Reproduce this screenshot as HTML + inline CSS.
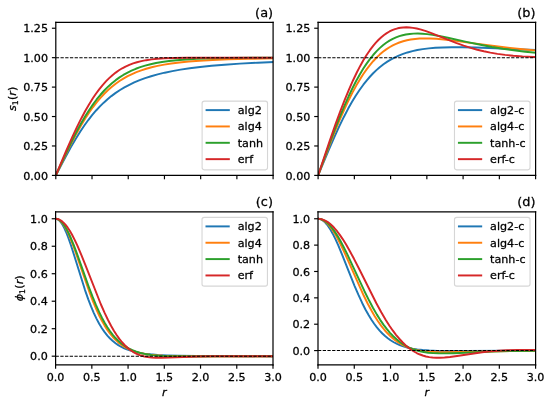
<!DOCTYPE html>
<html><head><meta charset="utf-8"><title>figure</title>
<style>html,body{margin:0;padding:0;background:#fff;overflow:hidden}svg{display:block}svg text{stroke:#000;stroke-width:0.25px;paint-order:stroke fill}</style></head>
<body>
<svg width="550" height="406" viewBox="0 0 493.716338 364.452424" version="1.1">
 
 <defs>
  <style type="text/css">*{stroke-linejoin: round; stroke-linecap: butt}</style>
 </defs>
 <g id="figure_1">
  <g id="patch_1">
   <path d="M 0 364.452424 
L 493.716338 364.452424 
L 493.716338 0 
L 0 0 
z
" style="fill: #ffffff"/>
  </g>
  <g id="axes_1">
   <g id="patch_2">
    <path d="M 50.089767 157.450628 
L 245.152603 157.450628 
L 245.152603 20.062837 
L 50.089767 20.062837 
z
" style="fill: #ffffff"/>
   </g>
   <g id="matplotlib.axis_1">
    <g id="xtick_1">
     <g id="line2d_1">
      <g>
       <path d="M 0 0  L 0 3.5  " transform="translate(50.089767 157.450628)" style="stroke: #000000; stroke-width: 1.05"/>
      </g>
     </g>
    </g>
    <g id="xtick_2">
     <g id="line2d_2">
      <g>
       <path d="M 0 0  L 0 3.5  " transform="translate(82.600239 157.450628)" style="stroke: #000000; stroke-width: 1.05"/>
      </g>
     </g>
    </g>
    <g id="xtick_3">
     <g id="line2d_3">
      <g>
       <path d="M 0 0  L 0 3.5  " transform="translate(115.110712 157.450628)" style="stroke: #000000; stroke-width: 1.05"/>
      </g>
     </g>
    </g>
    <g id="xtick_4">
     <g id="line2d_4">
      <g>
       <path d="M 0 0  L 0 3.5  " transform="translate(147.621185 157.450628)" style="stroke: #000000; stroke-width: 1.05"/>
      </g>
     </g>
    </g>
    <g id="xtick_5">
     <g id="line2d_5">
      <g>
       <path d="M 0 0  L 0 3.5  " transform="translate(180.131658 157.450628)" style="stroke: #000000; stroke-width: 1.05"/>
      </g>
     </g>
    </g>
    <g id="xtick_6">
     <g id="line2d_6">
      <g>
       <path d="M 0 0  L 0 3.5  " transform="translate(212.64213 157.450628)" style="stroke: #000000; stroke-width: 1.05"/>
      </g>
     </g>
    </g>
    <g id="xtick_7">
     <g id="line2d_7">
      <g>
       <path d="M 0 0  L 0 3.5  " transform="translate(245.152603 157.450628)" style="stroke: #000000; stroke-width: 1.05"/>
      </g>
     </g>
    </g>
   </g>
   <g id="matplotlib.axis_2">
    <g id="ytick_1">
     <g id="line2d_8">
      <g>
       <path d="M 0 0  L -3.5 0  " transform="translate(50.089767 157.450628)" style="stroke: #000000; stroke-width: 1.05"/>
      </g>
     </g>
     <g id="text_1">
      <text style="font-size: 10px; font-family: 'DejaVu Sans', sans-serif; text-anchor: end" x="43.089767" y="161.249847">0.00</text>
     </g>
    </g>
    <g id="ytick_2">
     <g id="line2d_9">
      <g>
       <path d="M 0 0  L -3.5 0  " transform="translate(50.089767 131.029899)" style="stroke: #000000; stroke-width: 1.05"/>
      </g>
     </g>
     <g id="text_2">
      <text style="font-size: 10px; font-family: 'DejaVu Sans', sans-serif; text-anchor: end" x="43.089767" y="134.829118">0.25</text>
     </g>
    </g>
    <g id="ytick_3">
     <g id="line2d_10">
      <g>
       <path d="M 0 0  L -3.5 0  " transform="translate(50.089767 104.60917)" style="stroke: #000000; stroke-width: 1.05"/>
      </g>
     </g>
     <g id="text_3">
      <text style="font-size: 10px; font-family: 'DejaVu Sans', sans-serif; text-anchor: end" x="43.089767" y="108.408389">0.50</text>
     </g>
    </g>
    <g id="ytick_4">
     <g id="line2d_11">
      <g>
       <path d="M 0 0  L -3.5 0  " transform="translate(50.089767 78.188441)" style="stroke: #000000; stroke-width: 1.05"/>
      </g>
     </g>
     <g id="text_4">
      <text style="font-size: 10px; font-family: 'DejaVu Sans', sans-serif; text-anchor: end" x="43.089767" y="81.98766">0.75</text>
     </g>
    </g>
    <g id="ytick_5">
     <g id="line2d_12">
      <g>
       <path d="M 0 0  L -3.5 0  " transform="translate(50.089767 51.767712)" style="stroke: #000000; stroke-width: 1.05"/>
      </g>
     </g>
     <g id="text_5">
      <text style="font-size: 10px; font-family: 'DejaVu Sans', sans-serif; text-anchor: end" x="43.089767" y="55.56693">1.00</text>
     </g>
    </g>
    <g id="ytick_6">
     <g id="line2d_13">
      <g>
       <path d="M 0 0  L -3.5 0  " transform="translate(50.089767 25.346982)" style="stroke: #000000; stroke-width: 1.05"/>
      </g>
     </g>
     <g id="text_6">
      <text style="font-size: 10px; font-family: 'DejaVu Sans', sans-serif; text-anchor: end" x="43.089767" y="29.146201">1.25</text>
     </g>
    </g>
    <g id="text_7">
     <!-- $s_1(r)$ -->
     <g transform="translate(14.744454 99.706732) rotate(-90)">
      <text>
       <tspan x="0" y="-0.40625" style="font-style: oblique; font-size: 10px; font-family: 'DejaVu Sans', sans-serif">s</tspan>
       <tspan x="13.838379" y="-0.40625" style="font-style: oblique; font-size: 10px; font-family: 'DejaVu Sans', sans-serif">r</tspan>
       <tspan x="5.209961" y="1.234375" style="font-size: 7px; font-family: 'DejaVu Sans', sans-serif">1</tspan>
       <tspan x="9.937012" y="-0.40625" style="font-size: 10px; font-family: 'DejaVu Sans', sans-serif">(</tspan>
       <tspan x="17.949707" y="-0.40625" style="font-size: 10px; font-family: 'DejaVu Sans', sans-serif">)</tspan>
      </text>
     </g>
    </g>
   </g>
   <g id="line2d_14">
    <path d="M 50.089832 157.450503 
L 58.889656 140.67784 
L 63.778447 131.814062 
L 68.178359 124.293886 
L 72.089392 118.043525 
L 76.000425 112.238778 
L 79.422579 107.537445 
L 82.844733 103.188683 
L 86.266887 99.184382 
L 89.689041 95.510674 
L 93.111195 92.149721 
L 96.533349 89.081242 
L 99.955503 86.283751 
L 103.866536 83.390561 
L 107.777569 80.791208 
L 111.688602 78.455577 
L 116.088514 76.108478 
L 120.488426 74.023587 
L 125.377217 71.975403 
L 130.266008 70.172281 
L 135.643679 68.432001 
L 141.510228 66.780963 
L 147.865657 65.237455 
L 154.709965 63.812412 
L 162.043152 62.510531 
L 170.354097 61.264099 
L 179.6428 60.102112 
L 189.909262 59.041842 
L 201.642361 58.053658 
L 215.330976 57.129921 
L 231.463988 56.275837 
L 245.152603 55.69893 
L 245.152603 55.69893 
" clip-path="url(#pa1dbc01595)" style="fill: none; stroke: #1f77b4; stroke-width: 1.75; stroke-linecap: square"/>
   </g>
   <g id="line2d_15">
    <path d="M 50.089832 157.45049 
L 59.378535 137.886107 
L 64.267326 128.085505 
L 68.667238 119.751769 
L 72.578271 112.81144 
L 76.489304 106.358613 
L 79.911458 101.132983 
L 83.333612 96.306737 
L 86.755766 91.877108 
L 90.17792 87.833971 
L 93.600074 84.161469 
L 97.022228 80.839581 
L 100.444382 77.845525 
L 103.866536 75.154975 
L 107.288689 72.743054 
L 110.710843 70.585104 
L 114.621876 68.399307 
L 118.532909 66.480439 
L 122.443942 64.797359 
L 126.843855 63.150517 
L 131.243767 61.730134 
L 136.132558 60.379075 
L 141.510228 59.125976 
L 147.376778 57.989678 
L 153.732207 56.979848 
L 161.065393 56.042294 
L 169.376339 55.208589 
L 179.153921 54.461207 
L 190.88702 53.804084 
L 205.064515 53.2486 
L 222.664163 52.792285 
L 245.152603 52.432881 
L 245.152603 52.432881 
" clip-path="url(#pa1dbc01595)" style="fill: none; stroke: #ff7f0e; stroke-width: 1.75; stroke-linecap: square"/>
   </g>
   <g id="line2d_16">
    <path d="M 50.089832 157.450485 
L 59.378535 137.178042 
L 64.267326 127.006888 
L 68.667238 118.344558 
L 72.578271 111.119861 
L 76.489304 104.394203 
L 79.911458 98.942894 
L 83.333612 93.906361 
L 86.755766 89.284674 
L 90.17792 85.070133 
L 93.600074 81.248753 
L 97.022228 77.801758 
L 100.444382 74.706963 
L 103.866536 71.940019 
L 107.288689 69.47546 
L 110.710843 67.287567 
L 114.132997 65.351041 
L 118.04403 63.414442 
L 121.955063 61.740027 
L 125.866096 60.296057 
L 130.266008 58.911142 
L 135.1548 57.626892 
L 140.043591 56.568099 
L 145.421261 55.618908 
L 151.77669 54.732655 
L 158.620998 54.002447 
L 166.931943 53.351252 
L 176.709525 52.822433 
L 188.931504 52.401618 
L 204.575636 52.097713 
L 227.552955 51.894072 
L 245.152603 51.828259 
L 245.152603 51.828259 
" clip-path="url(#pa1dbc01595)" style="fill: none; stroke: #2ca02c; stroke-width: 1.75; stroke-linecap: square"/>
   </g>
   <g id="line2d_17">
    <path d="M 50.089832 157.450473 
L 59.378535 135.457983 
L 64.756205 123.312324 
L 69.156118 113.921126 
L 73.067151 106.085776 
L 76.489304 99.67723 
L 79.911458 93.718851 
L 83.333612 88.231075 
L 86.266887 83.909919 
L 89.200162 79.943141 
L 92.133437 76.326856 
L 95.066711 73.052889 
L 97.999986 70.109329 
L 100.933261 67.48113 
L 103.866536 65.15073 
L 106.79981 63.098672 
L 109.733085 61.304204 
L 112.66636 59.745842 
L 116.088514 58.19721 
L 119.510668 56.906378 
L 122.932822 55.840541 
L 126.843855 54.858349 
L 131.243767 54.003746 
L 136.132558 53.302723 
L 141.510228 52.762241 
L 147.865657 52.346999 
L 156.176602 52.040764 
L 167.909701 51.854158 
L 189.420383 51.775711 
L 245.152603 51.767715 
L 245.152603 51.767715 
" clip-path="url(#pa1dbc01595)" style="fill: none; stroke: #d62728; stroke-width: 1.75; stroke-linecap: square"/>
   </g>
   <g id="line2d_18">
    <path d="M 50.089767 51.767712 
L 245.152603 51.767712 
" clip-path="url(#pa1dbc01595)" style="fill: none; stroke-dasharray: 2.945,1.2825; stroke-dashoffset: 0; stroke: #000000; stroke-width: 0.95"/>
   </g>
   <g id="patch_3">
    <path d="M 50.089767 157.450628 
L 50.089767 20.062837 
" style="fill: none; stroke: #000000; stroke-width: 1.1; stroke-linejoin: miter; stroke-linecap: square"/>
   </g>
   <g id="patch_4">
    <path d="M 245.152603 157.450628 
L 245.152603 20.062837 
" style="fill: none; stroke: #000000; stroke-width: 1.1; stroke-linejoin: miter; stroke-linecap: square"/>
   </g>
   <g id="patch_5">
    <path d="M 50.089767 157.450628 
L 245.152603 157.450628 
" style="fill: none; stroke: #000000; stroke-width: 1.1; stroke-linejoin: miter; stroke-linecap: square"/>
   </g>
   <g id="patch_6">
    <path d="M 50.089767 20.062837 
L 245.152603 20.062837 
" style="fill: none; stroke: #000000; stroke-width: 1.1; stroke-linejoin: miter; stroke-linecap: square"/>
   </g>
   <g id="text_8">
    <text style="font-size: 11.6px; font-family: 'DejaVu Sans', sans-serif; text-anchor: end" x="245.152603" y="15.062837">(a)</text>
   </g>
   <g id="legend_1">
    <g id="patch_7">
     <path d="M 183.429166 152.450628 
L 238.152603 152.450628 
Q 240.152603 152.450628 240.152603 150.450628 
L 240.152603 92.738128 
Q 240.152603 90.738128 238.152603 90.738128 
L 183.429166 90.738128 
Q 181.429166 90.738128 181.429166 92.738128 
L 181.429166 150.450628 
Q 181.429166 152.450628 183.429166 152.450628 
z
" style="fill: #ffffff; opacity: 0.8; stroke: #cccccc; stroke-linejoin: miter"/>
    </g>
    <g id="line2d_19">
     <path d="M 185.429166 98.836566 
L 195.429166 98.836566 
L 205.429166 98.836566 
" style="fill: none; stroke: #1f77b4; stroke-width: 1.75; stroke-linecap: square"/>
    </g>
    <g id="text_9">
     <text style="font-size: 10px; font-family: 'DejaVu Sans', sans-serif; text-anchor: start" x="213.429166" y="102.336566">alg2</text>
    </g>
    <g id="line2d_20">
     <path d="M 185.429166 113.514691 
L 195.429166 113.514691 
L 205.429166 113.514691 
" style="fill: none; stroke: #ff7f0e; stroke-width: 1.75; stroke-linecap: square"/>
    </g>
    <g id="text_10">
     <text style="font-size: 10px; font-family: 'DejaVu Sans', sans-serif; text-anchor: start" x="213.429166" y="117.014691">alg4</text>
    </g>
    <g id="line2d_21">
     <path d="M 185.429166 128.192816 
L 195.429166 128.192816 
L 205.429166 128.192816 
" style="fill: none; stroke: #2ca02c; stroke-width: 1.75; stroke-linecap: square"/>
    </g>
    <g id="text_11">
     <text style="font-size: 10px; font-family: 'DejaVu Sans', sans-serif; text-anchor: start" x="213.429166" y="131.692816">tanh</text>
    </g>
    <g id="line2d_22">
     <path d="M 185.429166 142.870941 
L 195.429166 142.870941 
L 205.429166 142.870941 
" style="fill: none; stroke: #d62728; stroke-width: 1.75; stroke-linecap: square"/>
    </g>
    <g id="text_12">
     <text style="font-size: 10px; font-family: 'DejaVu Sans', sans-serif; text-anchor: start" x="213.429166" y="146.370941">erf</text>
    </g>
   </g>
  </g>
  <g id="axes_2">
   <g id="patch_8">
    <path d="M 285.547576 157.450628 
L 480.789946 157.450628 
L 480.789946 20.062837 
L 285.547576 20.062837 
z
" style="fill: #ffffff"/>
   </g>
   <g id="matplotlib.axis_3">
    <g id="xtick_8">
     <g id="line2d_23">
      <g>
       <path d="M 0 0  L 0 3.5  " transform="translate(285.547576 157.450628)" style="stroke: #000000; stroke-width: 1.05"/>
      </g>
     </g>
    </g>
    <g id="xtick_9">
     <g id="line2d_24">
      <g>
       <path d="M 0 0  L 0 3.5  " transform="translate(318.087971 157.450628)" style="stroke: #000000; stroke-width: 1.05"/>
      </g>
     </g>
    </g>
    <g id="xtick_10">
     <g id="line2d_25">
      <g>
       <path d="M 0 0  L 0 3.5  " transform="translate(350.628366 157.450628)" style="stroke: #000000; stroke-width: 1.05"/>
      </g>
     </g>
    </g>
    <g id="xtick_11">
     <g id="line2d_26">
      <g>
       <path d="M 0 0  L 0 3.5  " transform="translate(383.168761 157.450628)" style="stroke: #000000; stroke-width: 1.05"/>
      </g>
     </g>
    </g>
    <g id="xtick_12">
     <g id="line2d_27">
      <g>
       <path d="M 0 0  L 0 3.5  " transform="translate(415.709156 157.450628)" style="stroke: #000000; stroke-width: 1.05"/>
      </g>
     </g>
    </g>
    <g id="xtick_13">
     <g id="line2d_28">
      <g>
       <path d="M 0 0  L 0 3.5  " transform="translate(448.249551 157.450628)" style="stroke: #000000; stroke-width: 1.05"/>
      </g>
     </g>
    </g>
    <g id="xtick_14">
     <g id="line2d_29">
      <g>
       <path d="M 0 0  L 0 3.5  " transform="translate(480.789946 157.450628)" style="stroke: #000000; stroke-width: 1.05"/>
      </g>
     </g>
    </g>
   </g>
   <g id="matplotlib.axis_4">
    <g id="ytick_7">
     <g id="line2d_30">
      <g>
       <path d="M 0 0  L -3.5 0  " transform="translate(285.547576 157.450628)" style="stroke: #000000; stroke-width: 1.05"/>
      </g>
     </g>
     <g id="text_13">
      <text style="font-size: 10px; font-family: 'DejaVu Sans', sans-serif; text-anchor: end" x="278.547576" y="161.249847">0.00</text>
     </g>
    </g>
    <g id="ytick_8">
     <g id="line2d_31">
      <g>
       <path d="M 0 0  L -3.5 0  " transform="translate(285.547576 131.029899)" style="stroke: #000000; stroke-width: 1.05"/>
      </g>
     </g>
     <g id="text_14">
      <text style="font-size: 10px; font-family: 'DejaVu Sans', sans-serif; text-anchor: end" x="278.547576" y="134.829118">0.25</text>
     </g>
    </g>
    <g id="ytick_9">
     <g id="line2d_32">
      <g>
       <path d="M 0 0  L -3.5 0  " transform="translate(285.547576 104.60917)" style="stroke: #000000; stroke-width: 1.05"/>
      </g>
     </g>
     <g id="text_15">
      <text style="font-size: 10px; font-family: 'DejaVu Sans', sans-serif; text-anchor: end" x="278.547576" y="108.408389">0.50</text>
     </g>
    </g>
    <g id="ytick_10">
     <g id="line2d_33">
      <g>
       <path d="M 0 0  L -3.5 0  " transform="translate(285.547576 78.188441)" style="stroke: #000000; stroke-width: 1.05"/>
      </g>
     </g>
     <g id="text_16">
      <text style="font-size: 10px; font-family: 'DejaVu Sans', sans-serif; text-anchor: end" x="278.547576" y="81.98766">0.75</text>
     </g>
    </g>
    <g id="ytick_11">
     <g id="line2d_34">
      <g>
       <path d="M 0 0  L -3.5 0  " transform="translate(285.547576 51.767712)" style="stroke: #000000; stroke-width: 1.05"/>
      </g>
     </g>
     <g id="text_17">
      <text style="font-size: 10px; font-family: 'DejaVu Sans', sans-serif; text-anchor: end" x="278.547576" y="55.56693">1.00</text>
     </g>
    </g>
    <g id="ytick_12">
     <g id="line2d_35">
      <g>
       <path d="M 0 0  L -3.5 0  " transform="translate(285.547576 25.346982)" style="stroke: #000000; stroke-width: 1.05"/>
      </g>
     </g>
     <g id="text_18">
      <text style="font-size: 10px; font-family: 'DejaVu Sans', sans-serif; text-anchor: end" x="278.547576" y="29.146201">1.25</text>
     </g>
    </g>
   </g>
   <g id="line2d_36">
    <path d="M 285.547641 157.45047 
L 294.844894 135.112728 
L 300.227514 122.762492 
L 304.631476 113.193813 
L 308.546108 105.185587 
L 312.460741 97.702638 
L 315.886045 91.615173 
L 319.311348 85.97196 
L 322.736652 80.777589 
L 326.161955 76.028527 
L 329.09793 72.304599 
L 332.033904 68.890413 
L 334.969879 65.773697 
L 337.905853 62.940344 
L 340.841828 60.374937 
L 344.267132 57.698903 
L 347.692435 55.338923 
L 351.117739 53.268415 
L 354.543042 51.461309 
L 357.968346 49.89248 
L 361.882979 48.360762 
L 365.797611 47.075911 
L 370.201573 45.887672 
L 374.605535 44.934195 
L 379.498826 44.108047 
L 384.881446 43.435327 
L 390.753395 42.93033 
L 397.604002 42.578135 
L 405.433267 42.410618 
L 414.73052 42.441621 
L 426.963747 42.724519 
L 444.579594 43.380007 
L 480.789946 44.927468 
L 480.789946 44.927468 
" clip-path="url(#p3b82200e59)" style="fill: none; stroke: #1f77b4; stroke-width: 1.75; stroke-linecap: square"/>
   </g>
   <g id="line2d_37">
    <path d="M 285.547641 157.450454 
L 295.334223 131.464558 
L 300.716843 117.803314 
L 305.120805 107.191176 
L 309.035437 98.285863 
L 312.95007 89.944381 
L 316.375374 83.146257 
L 319.800677 76.838874 
L 323.225981 71.035099 
L 326.161955 66.464707 
L 329.09793 62.26562 
L 332.033904 58.432093 
L 334.969879 54.955047 
L 337.905853 51.822568 
L 340.841828 49.020404 
L 343.777802 46.53245 
L 346.713777 44.341215 
L 349.649751 42.428252 
L 352.585726 40.774546 
L 355.5217 39.360863 
L 358.457675 38.168048 
L 361.882979 37.030497 
L 365.308282 36.139038 
L 368.733586 35.466082 
L 372.648218 34.931288 
L 376.562851 34.612059 
L 380.966813 34.469943 
L 385.860104 34.532938 
L 391.732053 34.848213 
L 398.58266 35.456579 
L 407.390583 36.482206 
L 422.070456 38.461615 
L 443.600936 41.331619 
L 457.791479 42.989549 
L 471.492694 44.369892 
L 480.789946 45.185697 
L 480.789946 45.185697 
" clip-path="url(#p3b82200e59)" style="fill: none; stroke: #ff7f0e; stroke-width: 1.75; stroke-linecap: square"/>
   </g>
   <g id="line2d_38">
    <path d="M 285.547641 157.450445 
L 295.334223 130.184457 
L 300.716843 115.822301 
L 305.120805 104.643326 
L 309.035437 95.244321 
L 312.95007 86.42468 
L 316.375374 79.226335 
L 319.800677 72.541069 
L 323.225981 66.387114 
L 326.161955 61.54265 
L 329.09793 57.096925 
L 332.033904 53.047077 
L 334.969879 49.386528 
L 337.905853 46.105396 
L 340.841828 43.190934 
L 343.777802 40.62798 
L 346.713777 38.399407 
L 349.649751 36.486558 
L 352.585726 34.869663 
L 355.5217 33.528228 
L 358.457675 32.441384 
L 361.393649 31.588206 
L 364.329624 30.947986 
L 367.754928 30.443235 
L 371.180231 30.169789 
L 375.094864 30.102774 
L 379.009497 30.258308 
L 383.413458 30.652422 
L 388.306749 31.306057 
L 394.178698 32.311771 
L 402.007964 33.893194 
L 418.645152 37.563605 
L 431.367709 40.234685 
L 441.643619 42.161782 
L 451.430201 43.771133 
L 461.216783 45.157939 
L 471.492694 46.388625 
L 480.789946 47.32234 
L 480.789946 47.32234 
" clip-path="url(#p3b82200e59)" style="fill: none; stroke: #2ca02c; stroke-width: 1.75; stroke-linecap: square"/>
   </g>
   <g id="line2d_39">
    <path d="M 285.547641 157.450432 
L 295.823552 126.815073 
L 301.206172 111.452602 
L 305.610134 99.483387 
L 309.524767 89.410539 
L 313.439399 79.952913 
L 316.864703 72.234258 
L 320.290006 65.072855 
L 323.225981 59.398975 
L 326.161955 54.167 
L 329.09793 49.384686 
L 332.033904 45.055346 
L 334.969879 41.177995 
L 337.416524 38.288596 
L 339.86317 35.704646 
L 342.309815 33.419439 
L 344.756461 31.42468 
L 347.203106 29.710626 
L 349.649751 28.266244 
L 352.096397 27.079368 
L 354.543042 26.136864 
L 356.989688 25.424796 
L 359.436333 24.928591 
L 361.882979 24.6332 
L 364.818953 24.522161 
L 367.754928 24.651327 
L 370.690902 24.993879 
L 374.116206 25.627933 
L 378.030838 26.611726 
L 382.4348 27.97962 
L 387.81742 29.91947 
L 395.157356 32.830101 
L 409.3479 38.49096 
L 416.198507 40.955093 
L 422.559785 42.995001 
L 428.431734 44.643626 
L 434.303683 46.063687 
L 440.175632 47.263273 
L 446.53691 48.33262 
L 453.387517 49.246334 
L 460.727454 49.99262 
L 469.046048 50.603577 
L 478.83263 51.081541 
L 480.789946 51.152932 
L 480.789946 51.152932 
" clip-path="url(#p3b82200e59)" style="fill: none; stroke: #d62728; stroke-width: 1.75; stroke-linecap: square"/>
   </g>
   <g id="line2d_40">
    <path d="M 285.547576 51.767712 
L 480.789946 51.767712 
" clip-path="url(#p3b82200e59)" style="fill: none; stroke-dasharray: 2.945,1.2825; stroke-dashoffset: 0; stroke: #000000; stroke-width: 0.95"/>
   </g>
   <g id="patch_9">
    <path d="M 285.547576 157.450628 
L 285.547576 20.062837 
" style="fill: none; stroke: #000000; stroke-width: 1.1; stroke-linejoin: miter; stroke-linecap: square"/>
   </g>
   <g id="patch_10">
    <path d="M 480.789946 157.450628 
L 480.789946 20.062837 
" style="fill: none; stroke: #000000; stroke-width: 1.1; stroke-linejoin: miter; stroke-linecap: square"/>
   </g>
   <g id="patch_11">
    <path d="M 285.547576 157.450628 
L 480.789946 157.450628 
" style="fill: none; stroke: #000000; stroke-width: 1.1; stroke-linejoin: miter; stroke-linecap: square"/>
   </g>
   <g id="patch_12">
    <path d="M 285.547576 20.062837 
L 480.789946 20.062837 
" style="fill: none; stroke: #000000; stroke-width: 1.1; stroke-linejoin: miter; stroke-linecap: square"/>
   </g>
   <g id="text_19">
    <text style="font-size: 11.6px; font-family: 'DejaVu Sans', sans-serif; text-anchor: end" x="480.789946" y="15.062837">(b)</text>
   </g>
   <g id="legend_2">
    <g id="patch_13">
     <path d="M 409.960259 152.450628 
L 473.789946 152.450628 
Q 475.789946 152.450628 475.789946 150.450628 
L 475.789946 92.738128 
Q 475.789946 90.738128 473.789946 90.738128 
L 409.960259 90.738128 
Q 407.960259 90.738128 407.960259 92.738128 
L 407.960259 150.450628 
Q 407.960259 152.450628 409.960259 152.450628 
z
" style="fill: #ffffff; opacity: 0.8; stroke: #cccccc; stroke-linejoin: miter"/>
    </g>
    <g id="line2d_41">
     <path d="M 411.960259 98.836566 
L 421.960259 98.836566 
L 431.960259 98.836566 
" style="fill: none; stroke: #1f77b4; stroke-width: 1.75; stroke-linecap: square"/>
    </g>
    <g id="text_20">
     <text style="font-size: 10px; font-family: 'DejaVu Sans', sans-serif; text-anchor: start" x="439.960259" y="102.336566">alg2-c</text>
    </g>
    <g id="line2d_42">
     <path d="M 411.960259 113.514691 
L 421.960259 113.514691 
L 431.960259 113.514691 
" style="fill: none; stroke: #ff7f0e; stroke-width: 1.75; stroke-linecap: square"/>
    </g>
    <g id="text_21">
     <text style="font-size: 10px; font-family: 'DejaVu Sans', sans-serif; text-anchor: start" x="439.960259" y="117.014691">alg4-c</text>
    </g>
    <g id="line2d_43">
     <path d="M 411.960259 128.192816 
L 421.960259 128.192816 
L 431.960259 128.192816 
" style="fill: none; stroke: #2ca02c; stroke-width: 1.75; stroke-linecap: square"/>
    </g>
    <g id="text_22">
     <text style="font-size: 10px; font-family: 'DejaVu Sans', sans-serif; text-anchor: start" x="439.960259" y="131.692816">tanh-c</text>
    </g>
    <g id="line2d_44">
     <path d="M 411.960259 142.870941 
L 421.960259 142.870941 
L 431.960259 142.870941 
" style="fill: none; stroke: #d62728; stroke-width: 1.75; stroke-linecap: square"/>
    </g>
    <g id="text_23">
     <text style="font-size: 10px; font-family: 'DejaVu Sans', sans-serif; text-anchor: start" x="439.960259" y="146.370941">erf-c</text>
    </g>
   </g>
  </g>
  <g id="axes_3">
   <g id="patch_14">
    <path d="M 49.910233 327.468582 
L 245.062837 327.468582 
L 245.062837 190.125673 
L 49.910233 190.125673 
z
" style="fill: #ffffff"/>
   </g>
   <g id="matplotlib.axis_5">
    <g id="xtick_15">
     <g id="line2d_45">
      <g>
       <path d="M 0 0  L 0 3.5  " transform="translate(49.910233 327.468582)" style="stroke: #000000; stroke-width: 1.05"/>
      </g>
     </g>
     <g id="text_24">
      <text style="font-size: 10px; font-family: 'DejaVu Sans', sans-serif; text-anchor: middle" x="49.910233" y="342.067019">0.0</text>
     </g>
    </g>
    <g id="xtick_16">
     <g id="line2d_46">
      <g>
       <path d="M 0 0  L 0 3.5  " transform="translate(82.435667 327.468582)" style="stroke: #000000; stroke-width: 1.05"/>
      </g>
     </g>
     <g id="text_25">
      <text style="font-size: 10px; font-family: 'DejaVu Sans', sans-serif; text-anchor: middle" x="82.435667" y="342.067019">0.5</text>
     </g>
    </g>
    <g id="xtick_17">
     <g id="line2d_47">
      <g>
       <path d="M 0 0  L 0 3.5  " transform="translate(114.961101 327.468582)" style="stroke: #000000; stroke-width: 1.05"/>
      </g>
     </g>
     <g id="text_26">
      <text style="font-size: 10px; font-family: 'DejaVu Sans', sans-serif; text-anchor: middle" x="114.961101" y="342.067019">1.0</text>
     </g>
    </g>
    <g id="xtick_18">
     <g id="line2d_48">
      <g>
       <path d="M 0 0  L 0 3.5  " transform="translate(147.486535 327.468582)" style="stroke: #000000; stroke-width: 1.05"/>
      </g>
     </g>
     <g id="text_27">
      <text style="font-size: 10px; font-family: 'DejaVu Sans', sans-serif; text-anchor: middle" x="147.486535" y="342.067019">1.5</text>
     </g>
    </g>
    <g id="xtick_19">
     <g id="line2d_49">
      <g>
       <path d="M 0 0  L 0 3.5  " transform="translate(180.011969 327.468582)" style="stroke: #000000; stroke-width: 1.05"/>
      </g>
     </g>
     <g id="text_28">
      <text style="font-size: 10px; font-family: 'DejaVu Sans', sans-serif; text-anchor: middle" x="180.011969" y="342.067019">2.0</text>
     </g>
    </g>
    <g id="xtick_20">
     <g id="line2d_50">
      <g>
       <path d="M 0 0  L 0 3.5  " transform="translate(212.537403 327.468582)" style="stroke: #000000; stroke-width: 1.05"/>
      </g>
     </g>
     <g id="text_29">
      <text style="font-size: 10px; font-family: 'DejaVu Sans', sans-serif; text-anchor: middle" x="212.537403" y="342.067019">2.5</text>
     </g>
    </g>
    <g id="xtick_21">
     <g id="line2d_51">
      <g>
       <path d="M 0 0  L 0 3.5  " transform="translate(245.062837 327.468582)" style="stroke: #000000; stroke-width: 1.05"/>
      </g>
     </g>
     <g id="text_30">
      <text style="font-size: 10px; font-family: 'DejaVu Sans', sans-serif; text-anchor: middle" x="245.062837" y="342.067019">3.0</text>
     </g>
    </g>
    <g id="text_31">
     <!-- $r$ -->
     <g transform="translate(145.386535 355.745144)">
      <text>
       <tspan x="0" y="-0.40625" style="font-style: oblique; font-size: 10px; font-family: 'DejaVu Sans', sans-serif">r</tspan>
      </text>
     </g>
    </g>
   </g>
   <g id="matplotlib.axis_6">
    <g id="ytick_13">
     <g id="line2d_52">
      <g>
       <path d="M 0 0  L -3.5 0  " transform="translate(49.910233 319.735797)" style="stroke: #000000; stroke-width: 1.05"/>
      </g>
     </g>
     <g id="text_32">
      <text style="font-size: 10px; font-family: 'DejaVu Sans', sans-serif; text-anchor: end" x="42.910233" y="323.535016">0.0</text>
     </g>
    </g>
    <g id="ytick_14">
     <g id="line2d_53">
      <g>
       <path d="M 0 0  L -3.5 0  " transform="translate(49.910233 295.062345)" style="stroke: #000000; stroke-width: 1.05"/>
      </g>
     </g>
     <g id="text_33">
      <text style="font-size: 10px; font-family: 'DejaVu Sans', sans-serif; text-anchor: end" x="42.910233" y="298.861563">0.2</text>
     </g>
    </g>
    <g id="ytick_15">
     <g id="line2d_54">
      <g>
       <path d="M 0 0  L -3.5 0  " transform="translate(49.910233 270.388892)" style="stroke: #000000; stroke-width: 1.05"/>
      </g>
     </g>
     <g id="text_34">
      <text style="font-size: 10px; font-family: 'DejaVu Sans', sans-serif; text-anchor: end" x="42.910233" y="274.18811">0.4</text>
     </g>
    </g>
    <g id="ytick_16">
     <g id="line2d_55">
      <g>
       <path d="M 0 0  L -3.5 0  " transform="translate(49.910233 245.715439)" style="stroke: #000000; stroke-width: 1.05"/>
      </g>
     </g>
     <g id="text_35">
      <text style="font-size: 10px; font-family: 'DejaVu Sans', sans-serif; text-anchor: end" x="42.910233" y="249.514657">0.6</text>
     </g>
    </g>
    <g id="ytick_17">
     <g id="line2d_56">
      <g>
       <path d="M 0 0  L -3.5 0  " transform="translate(49.910233 221.041986)" style="stroke: #000000; stroke-width: 1.05"/>
      </g>
     </g>
     <g id="text_36">
      <text style="font-size: 10px; font-family: 'DejaVu Sans', sans-serif; text-anchor: end" x="42.910233" y="224.841204">0.8</text>
     </g>
    </g>
    <g id="ytick_18">
     <g id="line2d_57">
      <g>
       <path d="M 0 0  L -3.5 0  " transform="translate(49.910233 196.368533)" style="stroke: #000000; stroke-width: 1.05"/>
      </g>
     </g>
     <g id="text_37">
      <text style="font-size: 10px; font-family: 'DejaVu Sans', sans-serif; text-anchor: end" x="42.910233" y="200.167751">1.0</text>
     </g>
    </g>
    <g id="text_38">
     <!-- $\phi_1(r)$ -->
     <g transform="translate(20.907108 270.447127) rotate(-90)">
      <text>
       <tspan x="0" y="-0.40625" style="font-style: oblique; font-size: 10px; font-family: 'DejaVu Sans', sans-serif">ϕ</tspan>
       <tspan x="15.225098" y="-0.40625" style="font-style: oblique; font-size: 10px; font-family: 'DejaVu Sans', sans-serif">r</tspan>
       <tspan x="6.59668" y="1.234375" style="font-size: 7px; font-family: 'DejaVu Sans', sans-serif">1</tspan>
       <tspan x="11.32373" y="-0.40625" style="font-size: 10px; font-family: 'DejaVu Sans', sans-serif">(</tspan>
       <tspan x="19.336426" y="-0.40625" style="font-size: 10px; font-family: 'DejaVu Sans', sans-serif">)</tspan>
      </text>
     </g>
    </g>
   </g>
   <g id="line2d_58">
    <path d="M 49.910298 196.368533 
L 50.888507 196.506191 
L 51.866715 196.917947 
L 52.844923 197.600272 
L 53.823131 198.547354 
L 54.80134 199.751198 
L 56.268652 202.015908 
L 57.735964 204.793691 
L 59.203276 208.034987 
L 61.159693 212.980702 
L 63.605213 219.962609 
L 66.539838 229.13033 
L 76.32192 260.391006 
L 79.256545 268.73736 
L 81.702065 275.087589 
L 84.147586 280.849098 
L 86.593106 286.015829 
L 89.038627 290.603247 
L 91.484147 294.641966 
L 93.929668 298.17229 
L 96.375188 301.239798 
L 98.820709 303.891978 
L 101.26623 306.175779 
L 103.71175 308.135965 
L 106.157271 309.814085 
L 108.602791 311.247929 
L 111.537416 312.693447 
L 114.47204 313.88673 
L 117.895769 315.017605 
L 121.319498 315.92113 
L 125.232331 316.73422 
L 129.634268 317.433251 
L 135.014413 318.05872 
L 141.372766 318.570448 
L 149.687536 318.998902 
L 160.447826 319.316344 
L 176.099158 319.540153 
L 203.488988 319.676277 
L 245.062837 319.722823 
L 245.062837 319.722823 
" clip-path="url(#p4c3c118aaa)" style="fill: none; stroke: #1f77b4; stroke-width: 1.75; stroke-linecap: square"/>
   </g>
   <g id="line2d_59">
    <path d="M 49.910298 196.368533 
L 50.888507 196.473181 
L 51.866715 196.786469 
L 52.844923 197.306521 
L 53.823131 198.030231 
L 55.290444 199.487946 
L 56.757756 201.374706 
L 58.225068 203.665979 
L 59.692381 206.332561 
L 61.648797 210.414018 
L 63.605213 215.016319 
L 66.050734 221.358663 
L 69.474463 230.999927 
L 80.723857 263.453787 
L 83.658482 271.032292 
L 86.593106 277.978799 
L 89.038627 283.244494 
L 91.484147 288.022223 
L 93.929668 292.316235 
L 96.375188 296.142479 
L 98.820709 299.525488 
L 101.26623 302.495605 
L 103.71175 305.086637 
L 106.157271 307.333942 
L 108.602791 309.272936 
L 111.048312 310.937988 
L 113.493832 312.361647 
L 116.428457 313.793775 
L 119.363081 314.968955 
L 122.78681 316.070513 
L 126.210539 316.935542 
L 130.123372 317.694783 
L 134.525309 318.323943 
L 139.905454 318.856641 
L 146.263807 319.25697 
L 154.578577 319.549067 
L 166.80618 319.730891 
L 188.815864 319.792525 
L 245.062837 319.755681 
L 245.062837 319.755681 
" clip-path="url(#p4c3c118aaa)" style="fill: none; stroke: #ff7f0e; stroke-width: 1.75; stroke-linecap: square"/>
   </g>
   <g id="line2d_60">
    <path d="M 49.910298 196.368533 
L 50.888507 196.464762 
L 51.866715 196.752899 
L 52.844923 197.231368 
L 53.823131 197.897563 
L 55.290444 199.240681 
L 56.757756 200.981628 
L 58.225068 203.099693 
L 59.692381 205.570137 
L 61.648797 209.363013 
L 63.605213 213.657335 
L 66.050734 219.606913 
L 68.985359 227.381533 
L 73.8764 241.150205 
L 79.745649 257.592143 
L 83.169378 266.563942 
L 86.104002 273.692818 
L 89.038627 280.222029 
L 91.484147 285.175765 
L 93.929668 289.67906 
L 96.375188 293.737577 
L 98.820709 297.366319 
L 101.26623 300.587198 
L 103.71175 303.426876 
L 106.157271 305.91492 
L 108.602791 308.08229 
L 111.048312 309.960134 
L 113.493832 311.57888 
L 115.939353 312.967581 
L 118.873977 314.368555 
L 121.808602 315.520415 
L 125.232331 316.600411 
L 128.656059 317.446536 
L 132.568892 318.184482 
L 136.970829 318.7879 
L 142.350974 319.285361 
L 148.709328 319.639399 
L 157.024098 319.867504 
L 169.2517 319.959661 
L 197.130634 319.877835 
L 245.062837 319.764526 
L 245.062837 319.764526 
" clip-path="url(#p4c3c118aaa)" style="fill: none; stroke: #2ca02c; stroke-width: 1.75; stroke-linecap: square"/>
   </g>
   <g id="line2d_61">
    <path d="M 49.910298 196.368533 
L 51.377611 196.518335 
L 52.844923 196.966715 
L 54.312235 197.710679 
L 55.779548 198.745271 
L 57.24686 200.063628 
L 58.714172 201.657052 
L 60.670589 204.191206 
L 62.627005 207.166381 
L 64.583422 210.548715 
L 67.028942 215.291158 
L 69.474463 220.529194 
L 72.409087 227.346059 
L 76.32192 237.077943 
L 90.505939 273.111218 
L 93.929668 280.888004 
L 96.864293 287.034638 
L 99.798917 292.646681 
L 102.244438 296.89169 
L 104.689958 300.73496 
L 107.135479 304.176467 
L 109.580999 307.223512 
L 112.02652 309.889684 
L 114.47204 312.193784 
L 116.917561 314.15872 
L 119.363081 315.810432 
L 121.808602 317.176867 
L 124.254123 318.287045 
L 126.699643 319.170213 
L 129.634268 319.970781 
L 132.568892 320.53333 
L 135.992621 320.947439 
L 139.905454 321.177433 
L 144.796495 321.214605 
L 151.643952 321.008501 
L 177.56647 320.017758 
L 191.750489 319.819083 
L 216.205694 319.741956 
L 245.062837 319.735934 
L 245.062837 319.735934 
" clip-path="url(#p4c3c118aaa)" style="fill: none; stroke: #d62728; stroke-width: 1.75; stroke-linecap: square"/>
   </g>
   <g id="line2d_62">
    <path d="M 49.910233 319.735797 
L 245.062837 319.735797 
" clip-path="url(#p4c3c118aaa)" style="fill: none; stroke-dasharray: 2.945,1.2825; stroke-dashoffset: 0; stroke: #000000; stroke-width: 0.95"/>
   </g>
   <g id="patch_15">
    <path d="M 49.910233 327.468582 
L 49.910233 190.125673 
" style="fill: none; stroke: #000000; stroke-width: 1.1; stroke-linejoin: miter; stroke-linecap: square"/>
   </g>
   <g id="patch_16">
    <path d="M 245.062837 327.468582 
L 245.062837 190.125673 
" style="fill: none; stroke: #000000; stroke-width: 1.1; stroke-linejoin: miter; stroke-linecap: square"/>
   </g>
   <g id="patch_17">
    <path d="M 49.910233 327.468582 
L 245.062837 327.468582 
" style="fill: none; stroke: #000000; stroke-width: 1.1; stroke-linejoin: miter; stroke-linecap: square"/>
   </g>
   <g id="patch_18">
    <path d="M 49.910233 190.125673 
L 245.062837 190.125673 
" style="fill: none; stroke: #000000; stroke-width: 1.1; stroke-linejoin: miter; stroke-linecap: square"/>
   </g>
   <g id="text_39">
    <text style="font-size: 11.6px; font-family: 'DejaVu Sans', sans-serif; text-anchor: end" x="245.062837" y="185.125673">(c)</text>
   </g>
   <g id="legend_3">
    <g id="patch_19">
     <path d="M 183.339399 256.838173 
L 238.062837 256.838173 
Q 240.062837 256.838173 240.062837 254.838173 
L 240.062837 197.125673 
Q 240.062837 195.125673 238.062837 195.125673 
L 183.339399 195.125673 
Q 181.339399 195.125673 181.339399 197.125673 
L 181.339399 254.838173 
Q 181.339399 256.838173 183.339399 256.838173 
z
" style="fill: #ffffff; opacity: 0.8; stroke: #cccccc; stroke-linejoin: miter"/>
    </g>
    <g id="line2d_63">
     <path d="M 185.339399 203.224111 
L 195.339399 203.224111 
L 205.339399 203.224111 
" style="fill: none; stroke: #1f77b4; stroke-width: 1.75; stroke-linecap: square"/>
    </g>
    <g id="text_40">
     <text style="font-size: 10px; font-family: 'DejaVu Sans', sans-serif; text-anchor: start" x="213.339399" y="206.724111">alg2</text>
    </g>
    <g id="line2d_64">
     <path d="M 185.339399 217.902236 
L 195.339399 217.902236 
L 205.339399 217.902236 
" style="fill: none; stroke: #ff7f0e; stroke-width: 1.75; stroke-linecap: square"/>
    </g>
    <g id="text_41">
     <text style="font-size: 10px; font-family: 'DejaVu Sans', sans-serif; text-anchor: start" x="213.339399" y="221.402236">alg4</text>
    </g>
    <g id="line2d_65">
     <path d="M 185.339399 232.580361 
L 195.339399 232.580361 
L 205.339399 232.580361 
" style="fill: none; stroke: #2ca02c; stroke-width: 1.75; stroke-linecap: square"/>
    </g>
    <g id="text_42">
     <text style="font-size: 10px; font-family: 'DejaVu Sans', sans-serif; text-anchor: start" x="213.339399" y="236.080361">tanh</text>
    </g>
    <g id="line2d_66">
     <path d="M 185.339399 247.258486 
L 195.339399 247.258486 
L 205.339399 247.258486 
" style="fill: none; stroke: #d62728; stroke-width: 1.75; stroke-linecap: square"/>
    </g>
    <g id="text_43">
     <text style="font-size: 10px; font-family: 'DejaVu Sans', sans-serif; text-anchor: start" x="213.339399" y="250.758486">erf</text>
    </g>
   </g>
  </g>
  <g id="axes_4">
   <g id="patch_20">
    <path d="M 285.45781 327.468582 
L 480.789946 327.468582 
L 480.789946 190.125673 
L 285.45781 190.125673 
z
" style="fill: #ffffff"/>
   </g>
   <g id="matplotlib.axis_7">
    <g id="xtick_22">
     <g id="line2d_67">
      <g>
       <path d="M 0 0  L 0 3.5  " transform="translate(285.45781 327.468582)" style="stroke: #000000; stroke-width: 1.05"/>
      </g>
     </g>
     <g id="text_44">
      <text style="font-size: 10px; font-family: 'DejaVu Sans', sans-serif; text-anchor: middle" x="285.45781" y="342.067019">0.0</text>
     </g>
    </g>
    <g id="xtick_23">
     <g id="line2d_68">
      <g>
       <path d="M 0 0  L 0 3.5  " transform="translate(318.013166 327.468582)" style="stroke: #000000; stroke-width: 1.05"/>
      </g>
     </g>
     <g id="text_45">
      <text style="font-size: 10px; font-family: 'DejaVu Sans', sans-serif; text-anchor: middle" x="318.013166" y="342.067019">0.5</text>
     </g>
    </g>
    <g id="xtick_24">
     <g id="line2d_69">
      <g>
       <path d="M 0 0  L 0 3.5  " transform="translate(350.568522 327.468582)" style="stroke: #000000; stroke-width: 1.05"/>
      </g>
     </g>
     <g id="text_46">
      <text style="font-size: 10px; font-family: 'DejaVu Sans', sans-serif; text-anchor: middle" x="350.568522" y="342.067019">1.0</text>
     </g>
    </g>
    <g id="xtick_25">
     <g id="line2d_70">
      <g>
       <path d="M 0 0  L 0 3.5  " transform="translate(383.123878 327.468582)" style="stroke: #000000; stroke-width: 1.05"/>
      </g>
     </g>
     <g id="text_47">
      <text style="font-size: 10px; font-family: 'DejaVu Sans', sans-serif; text-anchor: middle" x="383.123878" y="342.067019">1.5</text>
     </g>
    </g>
    <g id="xtick_26">
     <g id="line2d_71">
      <g>
       <path d="M 0 0  L 0 3.5  " transform="translate(415.679234 327.468582)" style="stroke: #000000; stroke-width: 1.05"/>
      </g>
     </g>
     <g id="text_48">
      <text style="font-size: 10px; font-family: 'DejaVu Sans', sans-serif; text-anchor: middle" x="415.679234" y="342.067019">2.0</text>
     </g>
    </g>
    <g id="xtick_27">
     <g id="line2d_72">
      <g>
       <path d="M 0 0  L 0 3.5  " transform="translate(448.23459 327.468582)" style="stroke: #000000; stroke-width: 1.05"/>
      </g>
     </g>
     <g id="text_49">
      <text style="font-size: 10px; font-family: 'DejaVu Sans', sans-serif; text-anchor: middle" x="448.23459" y="342.067019">2.5</text>
     </g>
    </g>
    <g id="xtick_28">
     <g id="line2d_73">
      <g>
       <path d="M 0 0  L 0 3.5  " transform="translate(480.789946 327.468582)" style="stroke: #000000; stroke-width: 1.05"/>
      </g>
     </g>
     <g id="text_50">
      <text style="font-size: 10px; font-family: 'DejaVu Sans', sans-serif; text-anchor: middle" x="480.789946" y="342.067019">3.0</text>
     </g>
    </g>
    <g id="text_51">
     <!-- $r$ -->
     <g transform="translate(381.023878 355.745144)">
      <text>
       <tspan x="0" y="-0.40625" style="font-style: oblique; font-size: 10px; font-family: 'DejaVu Sans', sans-serif">r</tspan>
      </text>
     </g>
    </g>
   </g>
   <g id="matplotlib.axis_8">
    <g id="ytick_19">
     <g id="line2d_74">
      <g>
       <path d="M 0 0  L -3.5 0  " transform="translate(285.45781 314.703271)" style="stroke: #000000; stroke-width: 1.05"/>
      </g>
     </g>
     <g id="text_52">
      <text style="font-size: 10px; font-family: 'DejaVu Sans', sans-serif; text-anchor: end" x="278.45781" y="318.502489">0.0</text>
     </g>
    </g>
    <g id="ytick_20">
     <g id="line2d_75">
      <g>
       <path d="M 0 0  L -3.5 0  " transform="translate(285.45781 291.036323)" style="stroke: #000000; stroke-width: 1.05"/>
      </g>
     </g>
     <g id="text_53">
      <text style="font-size: 10px; font-family: 'DejaVu Sans', sans-serif; text-anchor: end" x="278.45781" y="294.835542">0.2</text>
     </g>
    </g>
    <g id="ytick_21">
     <g id="line2d_76">
      <g>
       <path d="M 0 0  L -3.5 0  " transform="translate(285.45781 267.369375)" style="stroke: #000000; stroke-width: 1.05"/>
      </g>
     </g>
     <g id="text_54">
      <text style="font-size: 10px; font-family: 'DejaVu Sans', sans-serif; text-anchor: end" x="278.45781" y="271.168594">0.4</text>
     </g>
    </g>
    <g id="ytick_22">
     <g id="line2d_77">
      <g>
       <path d="M 0 0  L -3.5 0  " transform="translate(285.45781 243.702428)" style="stroke: #000000; stroke-width: 1.05"/>
      </g>
     </g>
     <g id="text_55">
      <text style="font-size: 10px; font-family: 'DejaVu Sans', sans-serif; text-anchor: end" x="278.45781" y="247.501647">0.6</text>
     </g>
    </g>
    <g id="ytick_23">
     <g id="line2d_78">
      <g>
       <path d="M 0 0  L -3.5 0  " transform="translate(285.45781 220.03548)" style="stroke: #000000; stroke-width: 1.05"/>
      </g>
     </g>
     <g id="text_56">
      <text style="font-size: 10px; font-family: 'DejaVu Sans', sans-serif; text-anchor: end" x="278.45781" y="223.834699">0.8</text>
     </g>
    </g>
    <g id="ytick_24">
     <g id="line2d_79">
      <g>
       <path d="M 0 0  L -3.5 0  " transform="translate(285.45781 196.368533)" style="stroke: #000000; stroke-width: 1.05"/>
      </g>
     </g>
     <g id="text_57">
      <text style="font-size: 10px; font-family: 'DejaVu Sans', sans-serif; text-anchor: end" x="278.45781" y="200.167751">1.0</text>
     </g>
    </g>
   </g>
   <g id="line2d_80">
    <path d="M 285.457875 196.368533 
L 286.436983 196.447161 
L 287.416091 196.682668 
L 288.884753 197.327539 
L 290.353415 198.316247 
L 291.822078 199.6388 
L 293.29074 201.281969 
L 294.759402 203.229541 
L 296.717618 206.266818 
L 298.675835 209.760313 
L 301.123605 214.68171 
L 303.571375 220.107311 
L 306.998254 228.313772 
L 312.872902 243.157765 
L 318.257997 256.551758 
L 321.684876 264.551611 
L 325.111754 271.960799 
L 328.049078 277.770022 
L 330.986403 283.046374 
L 333.434173 287.029557 
L 335.881943 290.640962 
L 338.329714 293.891858 
L 340.777484 296.79867 
L 343.225254 299.381541 
L 345.673025 301.663055 
L 348.120795 303.667167 
L 350.568565 305.418315 
L 353.50589 307.219836 
L 356.443214 308.732278 
L 359.380538 309.993511 
L 362.807417 311.193714 
L 366.234295 312.14875 
L 370.150728 312.995096 
L 374.556714 313.699306 
L 379.452255 314.247395 
L 385.326904 314.670421 
L 392.670215 314.960109 
L 402.461296 315.107598 
L 418.61658 315.095888 
L 480.789946 314.803917 
L 480.789946 314.803917 
" clip-path="url(#p9498af6504)" style="fill: none; stroke: #1f77b4; stroke-width: 1.75; stroke-linecap: square"/>
   </g>
   <g id="line2d_81">
    <path d="M 285.457875 196.368533 
L 286.926537 196.502959 
L 288.395199 196.905253 
L 289.863861 197.572545 
L 291.332524 198.500096 
L 292.801186 199.681353 
L 294.269848 201.108038 
L 296.228064 203.374732 
L 298.18628 206.032423 
L 300.144497 209.049439 
L 302.592267 213.272225 
L 305.040037 217.92698 
L 307.977362 223.97186 
L 311.893794 232.581767 
L 326.580416 265.505001 
L 330.007295 272.410632 
L 333.434173 278.795663 
L 336.371497 283.813233 
L 339.308822 288.391285 
L 342.246146 292.52486 
L 345.183471 296.219702 
L 347.631241 298.973783 
L 350.079011 301.445068 
L 352.526782 303.648026 
L 354.974552 305.59892 
L 357.911876 307.631891 
L 360.849201 309.358354 
L 363.786525 310.809857 
L 366.723849 312.017308 
L 370.150728 313.156946 
L 373.577606 314.048516 
L 377.494039 314.814742 
L 381.900025 315.417091 
L 386.795566 315.838285 
L 392.670215 316.095171 
L 400.013526 316.168363 
L 410.294161 316.026862 
L 464.145108 314.985168 
L 480.789946 314.856156 
L 480.789946 314.856156 
" clip-path="url(#p9498af6504)" style="fill: none; stroke: #ff7f0e; stroke-width: 1.75; stroke-linecap: square"/>
   </g>
   <g id="line2d_82">
    <path d="M 285.457875 196.368533 
L 286.926537 196.484451 
L 288.395199 196.831508 
L 289.863861 197.407678 
L 291.332524 198.209607 
L 292.801186 199.232651 
L 294.759402 200.930309 
L 296.717618 202.993234 
L 298.675835 205.400771 
L 300.634051 208.129189 
L 303.081821 211.950503 
L 305.529591 216.175427 
L 308.466916 221.692928 
L 311.893794 228.609247 
L 316.789335 239.052811 
L 327.06997 261.188362 
L 331.475957 270.046048 
L 334.902835 276.470732 
L 338.329714 282.417041 
L 341.267038 287.100645 
L 344.204362 291.386775 
L 347.141687 295.27038 
L 350.079011 298.754828 
L 353.016336 301.850567 
L 355.95366 304.573773 
L 358.890984 306.945042 
L 361.828309 308.98817 
L 364.765633 310.729051 
L 367.702957 312.194707 
L 370.640282 313.412465 
L 373.577606 314.40928 
L 377.004485 315.327654 
L 380.431363 316.01973 
L 384.347796 316.579589 
L 388.753782 316.972021 
L 393.649323 317.182363 
L 399.523972 317.212117 
L 407.356837 317.018914 
L 422.043459 316.378247 
L 441.625621 315.581127 
L 458.270459 315.139884 
L 477.852622 314.856392 
L 480.789946 314.82964 
L 480.789946 314.82964 
" clip-path="url(#p9498af6504)" style="fill: none; stroke: #2ca02c; stroke-width: 1.75; stroke-linecap: square"/>
   </g>
   <g id="line2d_83">
    <path d="M 285.457875 196.368533 
L 286.926537 196.454091 
L 288.395199 196.710449 
L 290.353415 197.316294 
L 292.311632 198.220296 
L 294.269848 199.416795 
L 296.228064 200.898324 
L 298.18628 202.655682 
L 300.144497 204.678017 
L 302.592267 207.559524 
L 305.040037 210.80822 
L 307.487808 214.393634 
L 310.425132 219.093735 
L 313.85201 225.047276 
L 317.768443 232.344219 
L 322.663984 241.970122 
L 337.84016 272.209657 
L 342.246146 280.289265 
L 346.162579 286.971587 
L 349.589457 292.369318 
L 352.526782 296.631319 
L 355.464106 300.538844 
L 358.40143 304.081639 
L 361.338755 307.25558 
L 364.276079 310.062257 
L 366.723849 312.125373 
L 369.17162 313.944522 
L 371.61939 315.528135 
L 374.06716 316.886381 
L 376.514931 318.030904 
L 379.452255 319.140382 
L 382.389579 319.98461 
L 385.326904 320.588869 
L 388.264228 320.979171 
L 391.691107 321.199028 
L 395.117985 321.204256 
L 399.034418 320.997906 
L 403.929958 320.501562 
L 410.294161 319.606353 
L 432.813648 316.217184 
L 440.156959 315.43748 
L 447.50027 314.875942 
L 455.333135 314.49383 
L 464.634662 314.269956 
L 476.38396 314.221286 
L 480.789946 314.242705 
L 480.789946 314.242705 
" clip-path="url(#p9498af6504)" style="fill: none; stroke: #d62728; stroke-width: 1.75; stroke-linecap: square"/>
   </g>
   <g id="line2d_84">
    <path d="M 285.45781 314.703271 
L 480.789946 314.703271 
" clip-path="url(#p9498af6504)" style="fill: none; stroke-dasharray: 2.945,1.2825; stroke-dashoffset: 0; stroke: #000000; stroke-width: 0.95"/>
   </g>
   <g id="patch_21">
    <path d="M 285.45781 327.468582 
L 285.45781 190.125673 
" style="fill: none; stroke: #000000; stroke-width: 1.1; stroke-linejoin: miter; stroke-linecap: square"/>
   </g>
   <g id="patch_22">
    <path d="M 480.789946 327.468582 
L 480.789946 190.125673 
" style="fill: none; stroke: #000000; stroke-width: 1.1; stroke-linejoin: miter; stroke-linecap: square"/>
   </g>
   <g id="patch_23">
    <path d="M 285.45781 327.468582 
L 480.789946 327.468582 
" style="fill: none; stroke: #000000; stroke-width: 1.1; stroke-linejoin: miter; stroke-linecap: square"/>
   </g>
   <g id="patch_24">
    <path d="M 285.45781 190.125673 
L 480.789946 190.125673 
" style="fill: none; stroke: #000000; stroke-width: 1.1; stroke-linejoin: miter; stroke-linecap: square"/>
   </g>
   <g id="text_58">
    <text style="font-size: 11.6px; font-family: 'DejaVu Sans', sans-serif; text-anchor: end" x="480.789946" y="185.125673">(d)</text>
   </g>
   <g id="legend_4">
    <g id="patch_25">
     <path d="M 409.960259 256.838173 
L 473.789946 256.838173 
Q 475.789946 256.838173 475.789946 254.838173 
L 475.789946 197.125673 
Q 475.789946 195.125673 473.789946 195.125673 
L 409.960259 195.125673 
Q 407.960259 195.125673 407.960259 197.125673 
L 407.960259 254.838173 
Q 407.960259 256.838173 409.960259 256.838173 
z
" style="fill: #ffffff; opacity: 0.8; stroke: #cccccc; stroke-linejoin: miter"/>
    </g>
    <g id="line2d_85">
     <path d="M 411.960259 203.224111 
L 421.960259 203.224111 
L 431.960259 203.224111 
" style="fill: none; stroke: #1f77b4; stroke-width: 1.75; stroke-linecap: square"/>
    </g>
    <g id="text_59">
     <text style="font-size: 10px; font-family: 'DejaVu Sans', sans-serif; text-anchor: start" x="439.960259" y="206.724111">alg2-c</text>
    </g>
    <g id="line2d_86">
     <path d="M 411.960259 217.902236 
L 421.960259 217.902236 
L 431.960259 217.902236 
" style="fill: none; stroke: #ff7f0e; stroke-width: 1.75; stroke-linecap: square"/>
    </g>
    <g id="text_60">
     <text style="font-size: 10px; font-family: 'DejaVu Sans', sans-serif; text-anchor: start" x="439.960259" y="221.402236">alg4-c</text>
    </g>
    <g id="line2d_87">
     <path d="M 411.960259 232.580361 
L 421.960259 232.580361 
L 431.960259 232.580361 
" style="fill: none; stroke: #2ca02c; stroke-width: 1.75; stroke-linecap: square"/>
    </g>
    <g id="text_61">
     <text style="font-size: 10px; font-family: 'DejaVu Sans', sans-serif; text-anchor: start" x="439.960259" y="236.080361">tanh-c</text>
    </g>
    <g id="line2d_88">
     <path d="M 411.960259 247.258486 
L 421.960259 247.258486 
L 431.960259 247.258486 
" style="fill: none; stroke: #d62728; stroke-width: 1.75; stroke-linecap: square"/>
    </g>
    <g id="text_62">
     <text style="font-size: 10px; font-family: 'DejaVu Sans', sans-serif; text-anchor: start" x="439.960259" y="250.758486">erf-c</text>
    </g>
   </g>
  </g>
 </g>
 <defs>
  <clipPath id="pa1dbc01595">
   <rect x="50.089767" y="20.062837" width="195.062837" height="137.387792"/>
  </clipPath>
  <clipPath id="p3b82200e59">
   <rect x="285.547576" y="20.062837" width="195.24237" height="137.387792"/>
  </clipPath>
  <clipPath id="p4c3c118aaa">
   <rect x="49.910233" y="190.125673" width="195.152603" height="137.342908"/>
  </clipPath>
  <clipPath id="p9498af6504">
   <rect x="285.45781" y="190.125673" width="195.332136" height="137.342908"/>
  </clipPath>
 </defs>
</svg>

</body></html>
